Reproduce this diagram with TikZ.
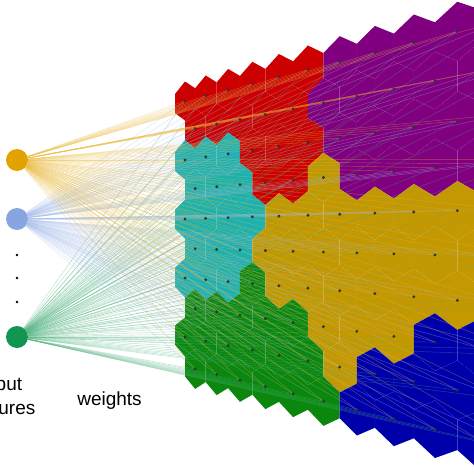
\documentclass[tikz,border=0pt]{standalone}
\usepackage{fontspec}
\setmainfont{Liberation Sans}
\usepackage{tikz}

\definecolor{somR}{RGB}{204,0,0}
\definecolor{somP}{RGB}{128,0,128}
\definecolor{somC}{RGB}{24,178,180}
\definecolor{somY}{RGB}{196,152,0}
\definecolor{somG}{RGB}{10,135,12}
\definecolor{somB}{RGB}{0,0,170}
\definecolor{inOrange}{RGB}{226,163,0}
\definecolor{inBlue}{RGB}{135,165,225}
\definecolor{inGreen}{RGB}{16,150,80}

\begin{document}
\begin{tikzpicture}[
  x=1pt, y=-1pt,
  font=\fontsize{19}{24}\selectfont,
  declare function={sx(\x)=-339+524/(1-0.038*\x); sy(\x,\y)=235+\y/(1-0.038*\x);},
  input/.style={circle, minimum size=22pt, inner sep=0pt},
  more/.style={circle, fill=black, minimum size=2.6pt, inner sep=0pt},
  cell/.style={draw=white, draw opacity=0.05, line width=0.3pt},
  weight/.style={draw=#1!75!white, line width=0.45pt, opacity=0.4},
  neuron/.style={fill=black!80},
]
\useasboundingbox (0,0) rectangle (474,474);
\clip (0,0) rectangle (474,474);

\node[input, fill=inOrange] (in1) at (17,160) {};
\node[input, fill=inBlue] (in2) at (17,219) {};
\node[more] (more1) at (17,255) {};
\node[more] (more2) at (17,278) {};
\node[more] (more3) at (17,302) {};
\node[input, fill=inGreen] (in3) at (17,337) {};

% map cells, one row per list
\foreach \row [count=\j from 0] in {
  {R,R,R,R,R,R,P,P,P,P,P},
  {R,R,R,R,R,P,P,P,P,P,P},
  {C,C,C,R,R,R,P,P,P,P,P},
  {C,C,C,R,R,Y,P,P,P,P,P},
  {C,C,C,C,Y,Y,Y,Y,Y,Y,Y},
  {C,C,C,Y,Y,Y,Y,Y,Y,Y,Y},
  {C,C,C,G,Y,Y,Y,Y,Y,Y,Y},
  {G,G,G,G,G,Y,Y,Y,B,B,B},
  {G,G,G,G,G,G,Y,B,B,B,B},
  {G,G,G,G,G,G,B,B,B,B,B}}
  \foreach \hue [count=\i from 0] in \row {
    \pgfmathsetmacro\cu{\i+0.5*mod(\j,2)}
    \pgfmathsetmacro\cv{29.5*\j-134}
    \fill[cell, fill=som\hue]
      ({sx(\cu)},{sy(\cu,\cv-19.5)})
      -- ({sx(\cu+0.5)},{sy(\cu+0.5,\cv-10)})
      -- ({sx(\cu+0.5)},{sy(\cu+0.5,\cv+10)})
      -- ({sx(\cu)},{sy(\cu,\cv+19.5)})
      -- ({sx(\cu-0.5)},{sy(\cu-0.5,\cv+10)})
      -- ({sx(\cu-0.5)},{sy(\cu-0.5,\cv-10)}) -- cycle;
    \coordinate (n-\j-\i) at ({sx(\cu)},{sy(\cu,\cv)});
  }

\foreach \j in {0,...,9}
  \foreach \i in {0,...,10} {
    \draw[weight=inBlue] (in2) -- (n-\j-\i);
    \draw[weight=inGreen] (in3) -- (n-\j-\i);
    \draw[weight=inOrange] (in1) -- (n-\j-\i);
  }

\foreach \j in {0,...,9}
  \foreach \i in {0,...,10}
    \fill[neuron] (n-\j-\i) circle (1.6);

\node[align=center, inner sep=0pt] (inlabel) at (1,396) {Input\\features};
\node[anchor=base, inner sep=0pt] (wlabel) at (109.5,405) {weights};
\end{tikzpicture}
\end{document}
